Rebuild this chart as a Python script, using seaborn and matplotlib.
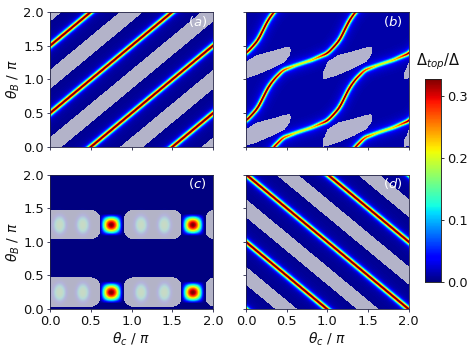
import numpy as np
import pandas as pd
import matplotlib
matplotlib.use("Agg")
import matplotlib.pyplot as plt
from matplotlib.colors import ListedColormap
from matplotlib.path import Path
import seaborn as sns

# --- values (angles in units of pi, gap values in Delta_top/Delta) ---
VMAX = 0.327
TICKS = [0.0, 0.5, 1.0, 1.5, 2.0]
CBAR_TICKS = [0.0, 0.1, 0.2, 0.3]
PANEL_LABELS = ["(a)", "(b)", "(c)", "(d)"]

# (a), (d): straight gap lines and masked bands, offset modulo 1
A_PEAK = 0.325
A_LINE_OFFSET = 0.5
A_BAND_OFFSET = 0.0
A_BAND_HALF = 0.143
D_PEAK = 0.325
D_LINE_OFFSET = 0.0
D_BAND_OFFSET = 0.5
D_BAND_HALF = 0.135

# (b): one period of the curved gap line and its peak value along the line
B_LINE_C = [0.0, 0.07, 0.151, 0.213, 0.274, 0.348, 0.459, 0.623, 0.808, 1.0]
B_LINE_B = [0.383, 0.466, 0.58, 0.73, 0.877, 1.0, 1.135, 1.21, 1.283, 1.383]
B_PEAK_C = [0.0, 0.15, 0.27, 0.40, 0.50, 0.62, 0.75, 0.85, 0.95, 1.0]
B_PEAK_V = [0.30, 0.315, 0.315, 0.28, 0.23, 0.175, 0.175, 0.21, 0.27, 0.30]
# (b): outline of one masked island
B_ISLAND_C = [-0.057, -0.057, -0.028, 0.0, 0.132, 0.332, 0.467, 0.541, 0.553,
              0.541, 0.48, 0.332, 0.132, 0.0]
B_ISLAND_B = [0.0, 0.105, 0.16, 0.258, 0.358, 0.421, 0.469, 0.484, 0.432,
              0.358, 0.258, 0.165, 0.061, 0.012]

# (c): main peak, faint peaks under the mask, masked rounded box
C_PEAK = 0.327
C_PEAK_C, C_PEAK_B = 0.75, 0.25
C_PEAK_HALF_C, C_PEAK_HALF_B = 0.145, 0.165
C_FAINT_PEAK = 0.165
C_FAINT_C = [0.115, 0.40]
C_FAINT_HALF_C, C_FAINT_HALF_B = 0.08, 0.14
C_BOX_C, C_BOX_B = 0.258, 0.255
C_BOX_HALF_C, C_BOX_HALF_B = 0.352, 0.218
C_BOX_CUT = 0.12

NX, NY = 326, 270
cc = (np.arange(NX) + 0.5) / NX * 2
bb = (np.arange(NY) + 0.5) / NY * 2
C, B = np.meshgrid(cc, bb)
PX_C, PX_B = 81.3, 67.4   # pixels per unit of pi, to measure widths on the page


def wrap(v):
    return (v + 0.5) % 1.0 - 0.5


def straight_panel(sign, line_off, band_off, band_half, peak):
    s = C * sign + B
    cos_f = 1 / np.sqrt(1 + (PX_B / PX_C) ** 2)
    d = wrap(s - line_off) * PX_B * cos_f
    z = (peak * (0.6 * np.exp(-d ** 2 / (2 * 1.3 ** 2)) + 0.4 * np.exp(-d ** 2 / (2 * 2.4 ** 2)))
         + 0.012 * np.exp(-d ** 2 / (2 * 6.0 ** 2)) + 0.006)
    return z, np.abs(wrap(s - band_off)) < band_half


def curved_panel():
    n = 240
    cd = np.linspace(0, 1, n, endpoint=False)
    bd = np.interp(cd, B_LINE_C, B_LINE_B)
    # round off the polyline
    resid = bd - cd
    kern = np.r_[np.ones(17) / 17, np.zeros(n - 17)]
    resid = np.real(np.fft.ifft(np.fft.fft(resid) * np.fft.fft(np.roll(kern, -8))))
    bd = cd + resid
    vd = np.interp(cd, B_PEAK_C, B_PEAK_V)
    pc = np.concatenate([cd + i for i in range(-1, 2) for _ in range(3)])
    pb = np.concatenate([bd + i + k for i in range(-1, 2) for k in (-1, 0, 1)])
    pv = np.tile(vd, 9)
    tx, ty = NX // 2, NY // 2
    z = np.zeros((ty, tx))
    tc, tb = cc[:tx], bb[:ty]
    for j in range(ty):
        dist2 = ((tc[:, None] - pc) * PX_C) ** 2 + ((tb[j] - pb) * PX_B) ** 2
        idx = dist2.argmin(axis=1)
        d2 = dist2[np.arange(tx), idx]
        z[j] = (pv[idx] * (0.65 * np.exp(-d2 / (2 * 1.1 ** 2)) + 0.35 * np.exp(-d2 / (2 * 2.1 ** 2)))
                + 0.022 * np.exp(-d2 / (2 * 5.0 ** 2)) + 0.012)
    z = np.tile(z, (2, 2))
    poly = Path(np.c_[B_ISLAND_C, B_ISLAND_B])
    m = np.zeros_like(z, dtype=bool)
    pts_c, pts_b = C % 1, B % 1
    for sc in (0, -1):
        m |= poly.contains_points(np.c_[(pts_c + sc).ravel(), pts_b.ravel()]).reshape(z.shape)
    return z, m


def box_panel():
    dc = wrap(C - C_PEAK_C)
    db = wrap(B - C_PEAK_B)
    fx = np.cos(np.clip(dc / C_PEAK_HALF_C, -1, 1) * np.pi / 2) ** 1.3
    fy = np.cos(np.clip(db / C_PEAK_HALF_B, -1, 1) * np.pi / 2) ** 1.3
    z = C_PEAK * fx * fy
    for c0 in C_FAINT_C:
        d1 = wrap(C - c0) / C_FAINT_HALF_C
        d2 = db / C_FAINT_HALF_B
        z = z + C_FAINT_PEAK * np.exp(-(d1 ** 2 + d2 ** 2) ** 1.5 * 1.2)
    xx = np.abs(wrap(C - C_BOX_C))
    yy = np.abs(wrap(B - C_BOX_B))
    m = (xx < C_BOX_HALF_C) & (yy < C_BOX_HALF_B)
    ex = np.clip(xx - (C_BOX_HALF_C - C_BOX_CUT), 0, None) / C_BOX_CUT
    ey = np.clip(yy - (C_BOX_HALF_B - C_BOX_CUT), 0, None) / C_BOX_CUT
    m &= ex ** 2 + ey ** 2 < 1
    return z + 0.001, m


fields = [
    straight_panel(-1, A_LINE_OFFSET, A_BAND_OFFSET, A_BAND_HALF, A_PEAK),
    curved_panel(),
    box_panel(),
    straight_panel(+1, D_LINE_OFFSET, D_BAND_OFFSET, D_BAND_HALF, D_PEAK),
]

sns.set_style("ticks")
plt.rcParams["font.family"] = ["DejaVu Sans"]
plt.rcParams["mathtext.fontset"] = "dejavusans"

W, H = 474, 352
fig = plt.figure(figsize=(W / 100, H / 100), dpi=100)


def box(x0, x1, y0, y1):
    return [x0 / W, 1 - y1 / H, (x1 - x0) / W, (y1 - y0) / H]


rects = [box(50, 213, 12, 146.5), box(246, 408.5, 12, 146.5),
         box(50, 213, 174.5, 309), box(246, 408.5, 174.5, 309)]
cax = fig.add_axes(box(424.5, 441, 79, 282))
mask_cmap = ListedColormap(["#d4d4d4"])
FS = 9.4
LS = 10

for i, ((z, m), r, lab) in enumerate(zip(fields, rects, PANEL_LABELS)):
    ax = fig.add_axes(r)
    sns.heatmap(pd.DataFrame(z), ax=ax, cmap="jet", vmin=0, vmax=VMAX,
                xticklabels=False, yticklabels=False,
                cbar=(i == 0), cbar_ax=cax if i == 0 else None,
                cbar_kws={"ticks": CBAR_TICKS} if i == 0 else None)
    sns.heatmap(pd.DataFrame(np.ones_like(z)), mask=~m, ax=ax, cmap=mask_cmap, alpha=0.85,
                vmin=0, vmax=2, cbar=False, xticklabels=False, yticklabels=False)
    ax.set_xlim(0, NX)
    ax.set_ylim(0, NY)
    ax.set_xticks([t / 2 * NX for t in TICKS])
    ax.set_yticks([t / 2 * NY for t in TICKS])
    ax.set_xticklabels([f"{t:.1f}" for t in TICKS] if i >= 2 else [], rotation=0)
    ax.set_yticklabels([f"{t:.1f}" for t in TICKS] if i in (0, 2) else [], rotation=0)
    ax.tick_params(axis="both", labelsize=FS, length=2.4, width=0.6, pad=2, color="#222244",
                   bottom=True, left=True, labelcolor="#111111")
    for sp in ax.spines.values():
        sp.set_visible(True)
        sp.set_linewidth(0.6)
        sp.set_color("#222244")
    ax.set_xlabel(r"$\theta_c$ / $\pi$" if i >= 2 else "", fontsize=LS, labelpad=1.5, color="#111111")
    ax.set_ylabel(r"$\theta_B$ / $\pi$" if i in (0, 2) else "", fontsize=LS, labelpad=0.5, color="#111111")
    label = r"$(" + lab[1] + r")$"
    ax.text(0.905, 0.93, label, transform=ax.transAxes, color="white", fontsize=9.5,
            ha="center", va="center")

cax.tick_params(labelsize=FS, length=2.4, width=0.6, pad=2, color="#111111", labelcolor="#111111")
for sp in cax.spines.values():
    sp.set_visible(True)
    sp.set_linewidth(0.5)
    sp.set_color("#222222")
fig.text(438 / W, 1 - 62 / H, r"$\Delta_{top}/\Delta$", fontsize=10.5, ha="center", va="center",
         color="#111111")

fig.savefig("out.png", dpi=100)
